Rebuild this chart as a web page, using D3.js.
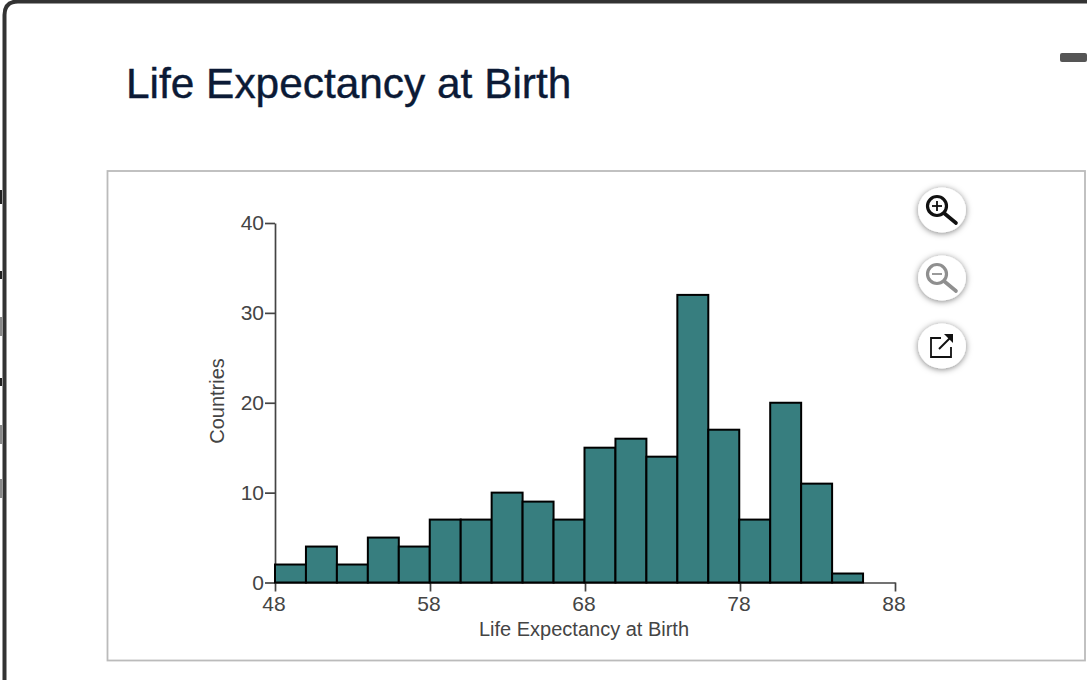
<!DOCTYPE html>
<html lang="en">
<head>
    <meta charset="UTF-8">
    <title>Life Expectancy at Birth</title>
    <script src="https://d3js.org/d3.v7.min.js"></script>
    <style>
        html, body { margin: 0; padding: 0; background: #fff; overflow: hidden; }
        svg { display: block; }
        .axis text { font-family: "Liberation Sans", Arial, sans-serif; font-size: 21px; fill: #444; }
        .axis path, .axis line { stroke: #444; stroke-width: 1.7px; }
        .label { font-family: "Liberation Sans", Arial, sans-serif; font-size: 20px; fill: #444; }
    </style>
</head>
<body>
    <div id="chart"></div>

    <script>
        // Histogram bins (2 years wide) and country counts
        const binStarts = [48, 50, 52, 54, 56, 58, 60, 62, 64, 66, 68, 70, 72, 74, 76, 78, 80, 82, 84];
        const binCounts = [2, 4, 2, 5, 4, 7, 7, 10, 9, 7, 15, 16, 14, 32, 17, 7, 20, 11, 1];
        const binWidth = 2;
        const xTicks = [48, 58, 68, 78, 88];
        const yTicks = [0, 10, 20, 30, 40];

        const width = 1087;
        const height = 680;

        const svg = d3.select("#chart")
            .append("svg")
            .attr("width", width)
            .attr("height", height);

        const defs = svg.append("defs");
        const shadow = defs.append("filter")
            .attr("id", "shadow")
            .attr("x", "-40%").attr("y", "-40%")
            .attr("width", "180%").attr("height", "180%");
        shadow.append("feDropShadow")
            .attr("dx", 0).attr("dy", 1)
            .attr("stdDeviation", 3)
            .attr("flood-color", "#000")
            .attr("flood-opacity", 0.5);

        // Window frame
        svg.append("path")
            .attr("d", `M4.5 ${height + 5} V15 Q4.5 1.5 18 1.5 H${width + 5}`)
            .attr("fill", "none")
            .attr("stroke", "#333")
            .attr("stroke-width", 4);

        // Slivers of the page behind the window
        const sliverTops = [190, 271, 317, 378, 425, 479];
        const sliverHeights = [14, 8, 19, 8, 19, 19];
        sliverTops.forEach((t, i) => {
            svg.append("rect")
                .attr("x", 0).attr("y", t)
                .attr("width", 2).attr("height", sliverHeights[i])
                .attr("fill", i === 0 || i === 1 || i === 3 ? "#222" : "#888");
        });

        // Minimise button
        svg.append("rect")
            .attr("x", 1060).attr("y", 53)
            .attr("width", 27).attr("height", 9)
            .attr("rx", 2)
            .attr("fill", "#555");

        svg.append("text")
            .attr("x", 126).attr("y", 98)
            .attr("font-family", "'Liberation Sans', Arial, sans-serif")
            .attr("font-size", 42.4)
            .attr("fill", "#0b1a36")
            .attr("stroke", "#0b1a36")
            .attr("stroke-width", 0.4)
            .text("Life Expectancy at Birth");

        // Chart panel
        svg.append("rect")
            .attr("x", 107.5).attr("y", 171)
            .attr("width", 977.5).attr("height", 489.5)
            .attr("fill", "#fff")
            .attr("stroke", "#bbb")
            .attr("stroke-width", 1.8);

        const x = d3.scaleLinear().domain([48, 88]).range([275, 895]);
        // the bars sit a touch tighter than the axis in the original
        const barX = d3.scaleLinear().domain([48, 88]).range([275, 894]);
        const y = d3.scaleLinear().domain([0, 40]).range([582.5, 223]);

        svg.append("g")
            .attr("class", "axis")
            .attr("transform", `translate(0, ${y(0)})`)
            .call(d3.axisBottom(x).tickValues(xTicks).tickSize(9).tickSizeOuter(0).tickPadding(5))
            .selectAll("text")
            .attr("dx", -1.5);

        svg.append("g")
            .attr("class", "axis")
            .attr("transform", `translate(${x(48)}, 0)`)
            .call(d3.axisLeft(y).tickValues(yTicks).tickSize(10).tickSizeOuter(0).tickPadding(1));

        svg.append("g")
            .selectAll("rect")
            .data(binStarts)
            .enter().append("rect")
            .attr("x", d => barX(d))
            .attr("y", (d, i) => y(binCounts[i]))
            .attr("width", d => barX(d + binWidth) - barX(d))
            .attr("height", (d, i) => y(0) - y(binCounts[i]))
            .attr("fill", "#377e7f")
            .attr("stroke", "#000")
            .attr("stroke-width", 2);

        svg.append("text")
            .attr("class", "label")
            .attr("x", 584).attr("y", 635.5)
            .attr("text-anchor", "middle")
            .text("Life Expectancy at Birth");

        svg.append("text")
            .attr("class", "label")
            .attr("transform", "translate(223.5, 401) rotate(-90)")
            .attr("text-anchor", "middle")
            .text("Countries");

        // Zoom and export buttons
        function button(cy) {
            const g = svg.append("g").attr("transform", `translate(942, ${cy})`);
            g.append("ellipse").attr("rx", 24).attr("ry", 22.5).attr("fill", "#fff").attr("filter", "url(#shadow)");
            return g;
        }

        function magnifier(g, colour, plus) {
            g.append("circle").attr("cx", -5).attr("cy", -4).attr("r", 9.5)
                .attr("fill", "none").attr("stroke", colour).attr("stroke-width", 3.2);
            g.append("line").attr("x1", 2.5).attr("y1", 3.5).attr("x2", 14).attr("y2", 13)
                .attr("stroke", colour).attr("stroke-width", 3.6).attr("stroke-linecap", "round");
            g.append("line").attr("x1", -10).attr("y1", -4).attr("x2", 0).attr("y2", -4)
                .attr("stroke", colour).attr("stroke-width", 1.8);
            if (plus) {
                g.append("line").attr("x1", -5).attr("y1", -9).attr("x2", -5).attr("y2", 1)
                    .attr("stroke", colour).attr("stroke-width", 1.8);
            }
        }

        magnifier(button(210), "#111", true);
        magnifier(button(278), "#8f8f8f", false);

        const share = button(346);
        share.append("path")
            .attr("d", "M-1 -8 H-11 V11 H9 V1")
            .attr("fill", "none").attr("stroke", "#111").attr("stroke-width", 1.8);
        share.append("line").attr("x1", -3).attr("y1", 3).attr("x2", 8).attr("y2", -8)
            .attr("stroke", "#111").attr("stroke-width", 2);
        share.append("path").attr("d", "M2 -12 H11 V-3 Z").attr("fill", "#111");
    </script>
</body>
</html>
